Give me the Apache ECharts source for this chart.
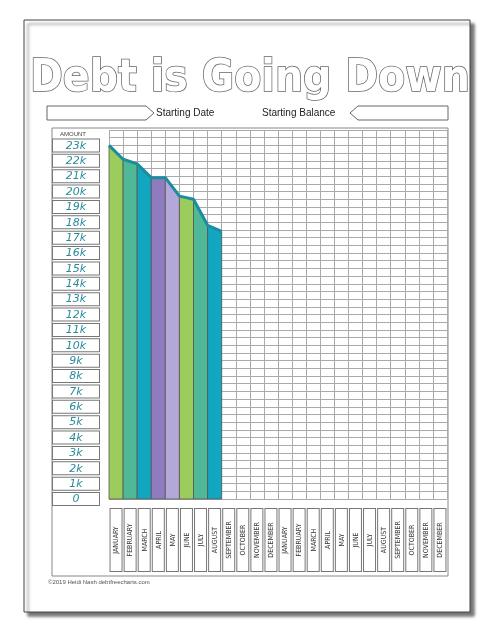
<!DOCTYPE html><html><head><meta charset="utf-8"><script src="https://cdn.jsdelivr.net/npm/echarts@6/dist/echarts.min.js"></script>
<style>html,body{margin:0;background:#fff}#c{width:495px;height:637px}</style></head><body><div id="c"></div><script>
const months=['JANUARY','FEBRUARY','MARCH','APRIL','MAY','JUNE','JULY','AUGUST','SEPTEMBER','OCTOBER','NOVEMBER','DECEMBER','JANUARY','FEBRUARY','MARCH','APRIL','MAY','JUNE','JULY','AUGUST','SEPTEMBER','OCTOBER','NOVEMBER','DECEMBER'];
const balance=[23,22.1,21.8,20.9,20.9,19.7,19.5,17.8,17.4]; // balance at each month boundary (k)
const colors=['#9ccd5c','#4fb896','#12a6c0','#8f7cc0','#b4a7d9','#9ccd5c','#4fb896','#12a6c0'];
const chart=echarts.init(document.getElementById('c'));
const cols=balance.slice(0,-1).map((v,i)=>[i,v,balance[i+1]]);
chart.setOption({
animation:false,
grid:{left:109,right:48,top:130,bottom:138},
xAxis:[{type:'value',min:0,max:24,interval:1,axisLabel:{show:false},axisTick:{show:false},axisLine:{show:false},splitLine:{lineStyle:{color:'#aaa',width:1}}},
{type:'category',data:months,position:'bottom',offset:0,axisLine:{show:false},axisTick:{show:false},
axisLabel:{interval:0,rotate:90,margin:10,formatter:v=>'{m|'+v+'}',
rich:{m:{fontSize:7,fontFamily:'DejaVu Sans Condensed',color:'#333',backgroundColor:'#fff',borderColor:'#777',borderWidth:1,width:58,height:10,align:'center',padding:[1,2,0,2]}}}}],
yAxis:{type:'value',min:0,max:24,interval:0.5,axisTick:{show:false},axisLine:{show:false},splitLine:{lineStyle:{color:'#aaa'}},
axisLabel:{margin:10,formatter:v=>(v%1===0&&v<24)?'{b|'+(v===0?'0':v+'k')+'}':'',
rich:{b:{fontSize:11,fontStyle:'italic',color:'#2a8a9a',fontFamily:'DejaVu Sans',backgroundColor:'#fff',borderColor:'#777',borderWidth:1,width:42,height:11,align:'center',padding:[1,2,0,2]}}}},
series:[{type:'custom',renderItem:(p,api)=>{const i=api.value(0);const a=api.coord([i,0]),b=api.coord([i+1,0]),c=api.coord([i+1,api.value(2)]),d=api.coord([i,api.value(1)]);
return {type:'polygon',shape:{points:[a,b,c,d]},style:{fill:colors[i],stroke:'#555',lineWidth:0.8}};},data:cols,encode:{x:0,y:1},z:3},
{type:'line',data:balance.map((v,i)=>[i,v]),symbol:'none',lineStyle:{color:'#1b8e9e',width:3},z:4}],
graphic:[
{type:'rect',shape:{x:24,y:20,width:446,height:592},style:{fill:'#fff',stroke:'#444',lineWidth:1,shadowBlur:3,shadowOffsetX:4,shadowOffsetY:4,shadowColor:'rgba(0,0,0,0.55)'},z:-10},
{type:'rect',shape:{x:52,y:128,width:396,height:448},style:{fill:'none',stroke:'#888',lineWidth:1},z:-5},
{type:'text',x:250,y:80,style:{text:'Debt is Going Down',font:'bold 44px "DejaVu Sans Condensed"',fill:'#fff',stroke:'#666',lineWidth:1.5,align:'center',verticalAlign:'middle'}},
{type:'polygon',shape:{points:[[47,106],[146,106],[154,113],[146,120],[47,120]]},style:{fill:'#fff',stroke:'#666'}},
{type:'polygon',shape:{points:[[448,106],[358,106],[350,113],[358,120],[448,120]]},style:{fill:'#fff',stroke:'#666'}},
{type:'text',x:156,y:113,style:{text:'Starting Date',font:'10px "Liberation Sans"',fill:'#222',verticalAlign:'middle'}},
{type:'text',x:262,y:113,style:{text:'Starting Balance',font:'10px "Liberation Sans"',fill:'#222',verticalAlign:'middle'}},
{type:'text',x:60,y:134,style:{text:'AMOUNT',font:'6px "Liberation Sans"',fill:'#444',verticalAlign:'middle'}},
{type:'text',x:48,y:582,style:{text:'©2019 Heidi Nash debtfreecharts.com',font:'6px "Liberation Sans"',fill:'#555',verticalAlign:'middle'}}
]});
</script></body></html>
